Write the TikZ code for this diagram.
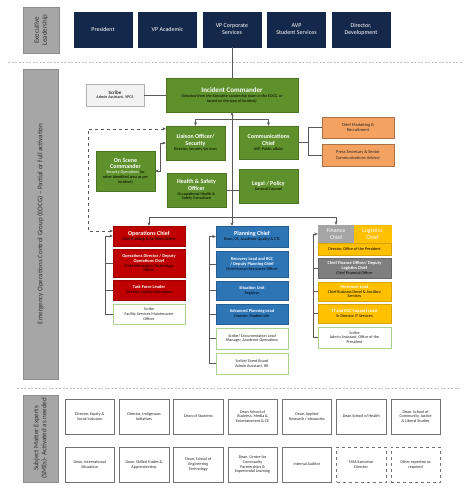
\documentclass[tikz,border=0pt]{standalone}
\usepackage{fontspec}
\setmainfont{Carlito}
\usetikzlibrary{arrows.meta}

\definecolor{execNavy}{HTML}{14284B}
\definecolor{bandGray}{HTML}{A6A6A6}
\definecolor{eocGreen}{HTML}{5E912C}
\definecolor{opsRed}{HTML}{C00000}
\definecolor{planBlue}{HTML}{2E75B6}
\definecolor{logGold}{HTML}{FFC000}
\definecolor{finGray}{HTML}{A5A5A5}
\definecolor{finDark}{HTML}{7F7F7F}
\definecolor{commOrange}{HTML}{F4A261}
\definecolor{scribeGreen}{HTML}{A9D18E}
\definecolor{lineGray}{HTML}{595959}

\newcommand{\chiefTitle}[1]{{\bfseries\fontsize{6}{6.8}\selectfont #1\par}}
\newcommand{\leadTitle}[1]{{\bfseries\fontsize{4.4}{5}\selectfont #1\par}}
\newcommand{\roleText}[1]{{\color{black}\fontsize{4.1}{4.8}\selectfont #1\par}}

\begin{document}
\begin{tikzpicture}[
    x=1pt, y=-1pt,
    >={Stealth[length=3.5pt, width=3pt]},
    conn/.style={draw=lineGray, line width=0.5pt},
    sep/.style={draw=bandGray!70, line width=0.6pt, dash pattern=on 2pt off 1.5pt},
    size/.style 2 args={text width=#1pt, inner xsep=0pt, inner ysep=0pt, minimum height=#2pt},
    box/.style={align=flush center, line width=0.4pt},
    band/.style={box, fill=bandGray, draw=bandGray!85!black, rotate=90, text=black!80,
        font=\fontsize{7}{8}\selectfont},
    exec/.style={box, fill=execNavy, draw=execNavy, text=white, size={58}{35},
        font=\fontsize{6}{7}\selectfont},
    green/.style={box, fill=eocGreen, draw=eocGreen!80!black, text=white},
    red/.style={box, fill=opsRed, draw=opsRed!80!black, text=white, size={72}{20}},
    blue/.style={box, fill=planBlue, draw=planBlue!80!black, text=white, size={72}{20}},
    gold/.style={box, fill=logGold, draw=logGold!85!black, text=white, size={73}{19}},
    orange/.style={box, fill=commOrange, draw=commOrange!70!black, text=black!85,
        size={72}{21}, font=\fontsize{4.4}{5.2}\selectfont},
    scribe/.style={box, fill=white, draw=scribeGreen, line width=0.6pt, text=black!85,
        font=\fontsize{4.1}{4.8}\selectfont},
    sme/.style={box, fill=white, draw=black!55, line width=0.6pt, text=black!85,
        size={49.5}{35}, font=\fontsize{4.1}{4.9}\selectfont},
    smeOpen/.style={sme, dashed}
]

\useasboundingbox (0,0) rectangle (474,495);
\fill[white] (0,0) rectangle (474,495);

% --- Side bands ---
\node[band, size={46}{36}] (execBand) at (41,30) {Executive\\Leadership};
\node[band, size={310}{35}] (eocgBand) at (40.5,224)
    {Emergency Operations Control Group (EOCG) -- Partial or full activation};
\node[band, size={87}{35}] (smeBand) at (40.5,438.5)
    {Subject Matter Experts\\(SMEs)- Activated as needed};

% --- Separators ---
\draw[sep] (8,62) -- (462,62);
\draw[sep] (17,388) -- (460,388);

% --- Executive leadership ---
\node[exec] (president) at (103,29.5) {President};
\node[exec] (vpAcademic) at (167.5,29.5) {VP Academic};
\node[exec] (vpCorporate) at (232,29.5) {VP Corporate\\Services};
\node[exec] (avpStudent) at (296.5,29.5) {AVP\\Student Services};
\node[exec] (dirDevelopment) at (361,29.5) {Director,\\Development};

% --- Command staff ---
\node[green, size={132}{34}] (incidentCmd) at (232,95)
    {{\bfseries\fontsize{7}{8.5}\selectfont Incident Commander\par}
     {\color{black}\itshape\fontsize{4.1}{5}\selectfont (Selected from the Executive Leadership team in the EOCG, or\\based on the type of incident)\par}};
\node[box, fill=black!5, draw=black!30, line width=0.6pt, text=black!80, size={58}{22}] (scribeTop) at (115,95)
    {{\bfseries\fontsize{5}{6.2}\selectfont Scribe\par}\roleText{Admin Assistant, VPCS}};

\node[green, size={59}{34}] (liaison) at (195.5,143)
    {\chiefTitle{Liaison Officer/\\Security}\roleText{Director, Security Services}};
\node[green, size={59}{33}] (comms) at (268.5,142.5)
    {\chiefTitle{Communications\\Chief}\roleText{AVP, Public affairs}};
\node[green, size={59}{40}] (onScene) at (125.5,171)
    {\chiefTitle{On Scene\\Commander}{\fontsize{4.1}{4.8}\selectfont Security Operations {\color{black}(or\\other identified area as per\\incident)}\par}};
\node[green, size={59}{34}] (healthSafety) at (196.5,190)
    {\chiefTitle{Health \& Safety\\Officer}\roleText{Occupational Health \&\\Safety Consultant}};
\node[green, size={59}{34}] (legal) at (268.5,186)
    {\chiefTitle{Legal / Policy}\roleText{General Counsel}};

\node[orange] (chiefMarketing) at (358,127.5) {Chief Marketing \&\\Recruitment};
\node[orange, size={72}{22}] (pressSec) at (358,155) {Press Secretary \& Senior\\Communications Advisor};

% --- Operations section ---
\node[red] (opsChief) at (149,236)
    {\chiefTitle{Operations Chief}\roleText{Chief Building \& Facilities Officer}};
\node[red, size={72}{28}] (opsDirector) at (149,263)
    {\leadTitle{Operations Director / Deputy\\Operations Chief}\roleText{Chief Information Technology\\Officer}};
\node[red] (taskForce) at (149,290)
    {\leadTitle{Task Force Leader}\roleText{Director, Facility Operations}};
\node[scribe, size={72}{20}] (opsScribe) at (149,314)
    {Scribe\\Facility Services Maintenance\\Officer};

% --- Planning section ---
\node[blue, size={72}{21}] (planChief) at (252,236.5)
    {\chiefTitle{Planning Chief}\roleText{Dean, CE, Academic Quality \& CTL}};
\node[blue, size={72}{26}] (recoveryLead) at (252,264)
    {\leadTitle{Recovery Lead and BCC\\/ Deputy Planning Chief}\roleText{Chief Human Resources Officer}};
\node[blue, size={72}{19}] (situationUnit) at (252,290.5)
    {\leadTitle{Situation Unit}\roleText{Registrar}};
\node[blue] (advPlanning) at (252,314)
    {\leadTitle{Advanced Planning Lead}\roleText{Director, Student Life}};
\node[scribe, size={72}{21}] (docLead) at (252,338.5)
    {Scribe/ Documentation Lead\\Manager, Academic Operations};
\node[scribe, size={72}{21}] (eventBoard) at (252,363.5)
    {Scribe/ Event Board\\Admin Assistant, HR};

% --- Finance / logistics section ---
\node[box, fill=finGray, draw=finGray, text=white, size={36}{18},
    font=\fontsize{6}{6.8}\selectfont] (financeChief) at (336,234) {Finance\\Chief};
\node[box, fill=logGold, draw=logGold, text=white, size={37}{18},
    font=\fontsize{6}{6.8}\selectfont] (logisticsChief) at (372.5,234) {Logistics\\Chief};
\node[gold, size={73}{12}] (finDirector) at (354.5,249)
    {\roleText{Director, Office of the President}};
\node[box, fill=finDark, draw=finDark!80!black, text=white, size={73}{20}] (cfo) at (354.5,268)
    {\leadTitle{Chief Finance Officer/ Deputy\\Logistics Chief}\roleText{Chief Financial Officer}};
\node[gold] (personnelLead) at (354.5,291.5)
    {\leadTitle{Personnel Lead}\roleText{Chief Business Devel \& Ancillary\\Services}};
\node[gold] (itLead) at (354.5,313.5)
    {\leadTitle{IT and EOC Support Lead}\roleText{Sr Director IT Services}};
\node[scribe, size={73}{21}] (finScribe) at (354.5,337.5)
    {Scribe\\Admin Assistant, Office of the\\President};

% --- Subject matter experts ---
\node[sme] (smeEquity) at (89.75,416.5) {Director, Equity \&\\Social Inclusion};
\node[sme] (smeIndigenous) at (144.05,416.5) {Director, Indigenous\\Initiatives};
\node[sme] (smeStudents) at (198.35,416.5) {Dean of Students};
\node[sme] (smeBusiness) at (252.65,416.5) {Dean School of\\Business, Media \&\\Entertainment \& CE};
\node[sme] (smeResearch) at (306.95,416.5) {Dean, Applied\\Research / Ideaworks};
\node[sme] (smeHealth) at (361.25,416.5) {Dean School of Health};
\node[sme] (smeCommunity) at (415.55,416.5) {Dean, School of\\Community, Justice\\\& Liberal Studies};
\node[sme] (smeIntl) at (89.75,464.5) {Dean, International\\Education};
\node[sme] (smeTrades) at (144.05,464.5) {Dean, Skilled Trades \&\\Apprenticeship};
\node[sme] (smeEngineering) at (198.35,464.5) {Dean, School of\\Engineering\\Technology};
\node[sme] (smePartnerships) at (252.65,464.5) {Dean, Centre for\\Community\\Partnerships \&\\Experiential Learning};
\node[sme] (smeAuditor) at (306.95,464.5) {Internal Auditor};
\node[smeOpen] (smeMsa) at (361.25,464.5) {MSA Executive\\Director};
\node[smeOpen] (smeOther) at (415.55,464.5) {Other expertise as\\required};

% --- Connectors ---
\coordinate (icSplit) at (232,119);
\coordinate (chiefSplit) at (232,217);
\coordinate (dashBend) at (88,180);

\draw[conn] (vpCorporate) -- (incidentCmd);
\draw[conn] (scribeTop) -- (incidentCmd);
\draw[conn,<-] (incidentCmd.south) -- (chiefSplit);
\draw[conn,->] (icSplit) -| (liaison.north);
\draw[conn,->] (icSplit) -| (comms.north);
\draw[conn] (healthSafety.east) -- (legal.west |- healthSafety.east);
\draw[conn,<->] (onScene.east) -- ++(5,0) |- (liaison.west);
\draw[conn,dashed,<->] ([yshift=-3pt]liaison.north west) -| (dashBend) |- ([yshift=5pt]opsChief.west);
\draw[conn] (comms.east) -- ++(10,0) |- (chiefMarketing.west);
\draw[conn] (comms.east) -- ++(10,0) |- (pressSec.west);

\draw[conn,->] (chiefSplit) -| (opsChief.north);
\draw[conn,->] (chiefSplit) -- (planChief.north -| chiefSplit);
\draw[conn,->] (chiefSplit) -| (financeChief.north);

% operations bracket
\draw[conn,->] (opsScribe.west) -- ++(-7,0) |- (opsChief.west);
\draw[conn] (opsDirector.west) -- ++(-7,0);
\draw[conn] (taskForce.west) -- ++(-7,0);

% planning bracket
\draw[conn,->] (eventBoard.west) -- ++(-6,0) |- (planChief.west);
\draw[conn] (recoveryLead.west) -- ++(-6,0);
\draw[conn] (situationUnit.west) -- ++(-6,0);
\draw[conn] (advPlanning.west) -- ++(-6,0);
\draw[conn] (docLead.west) -- ++(-6,0);

% finance bracket
\draw[conn,->] (finScribe.west) -- ++(-4,0) |- (financeChief.west);
\draw[conn] (cfo.west) -- ++(-4,0);
\draw[conn] (personnelLead.west) -- ++(-4,0);
\draw[conn] (itLead.west) -- ++(-4,0);

\end{tikzpicture}
\end{document}
